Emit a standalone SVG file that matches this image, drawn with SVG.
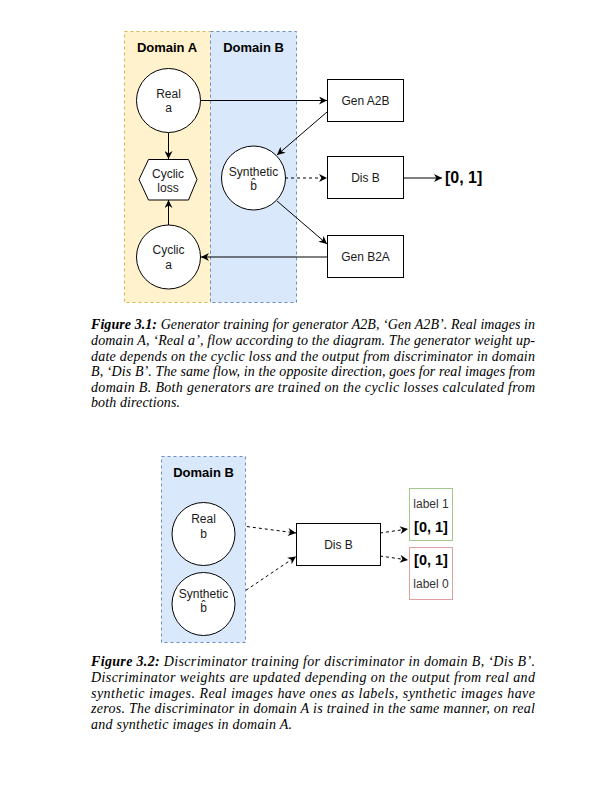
<svg xmlns="http://www.w3.org/2000/svg" width="601" height="785" viewBox="0 0 601 785">
<defs>
<style>
.lbl{font-family:"Liberation Sans",Arial,sans-serif;font-size:12px;fill:#1a1a1a;text-anchor:middle}
.hdr{font-family:"Liberation Sans",Arial,sans-serif;font-size:13px;font-weight:bold;fill:#000;text-anchor:middle}
.out{font-family:"Liberation Sans",Arial,sans-serif;font-weight:bold;fill:#000}
.small{font-family:"Liberation Sans",Arial,sans-serif;font-size:12px;fill:#333;text-anchor:middle}
.node{fill:#fff;stroke:#000;stroke-width:1}
.domA{fill:#fff2cc;stroke:#d6b656;stroke-width:1;stroke-dasharray:3 3}
.domB{fill:#dae8fc;stroke:#6c8ebf;stroke-width:1;stroke-dasharray:3 3}
.edge{fill:none;stroke:#000;stroke-width:1}
.dash{stroke-dasharray:3 3}
.cap{font-family:"Liberation Serif","Times New Roman",serif;font-size:14px;font-style:italic;fill:#000}
.capb{font-weight:bold}
</style>
<marker id="arr" viewBox="0 0 10 10" refX="10" refY="5" markerWidth="9" markerHeight="8" markerUnits="userSpaceOnUse" orient="auto">
<path d="M0,0 L10,5 L0,10 L3,5 z" fill="#000"/>
</marker>
</defs>
<rect width="601" height="785" fill="#fff"/>

<!-- Figure 3.1 -->
<g id="domainA">
<rect class="domA" x="124.5" y="31.5" width="86" height="271"/>
<text class="hdr" x="167" y="51.5">Domain A</text>
</g>
<g id="domainB">
<rect class="domB" x="210.5" y="31.5" width="86" height="271"/>
<text class="hdr" x="253.5" y="51.5">Domain B</text>
</g>

<g id="connectors">
<path class="edge" d="M201 100.5 L327 100.5" marker-end="url(#arr)"/>
<path class="edge" d="M327 112 L277 155" marker-end="url(#arr)"/>
<path class="edge dash" d="M285 178 L327 178" marker-end="url(#arr)"/>
<path class="edge" d="M403 178 L442 178" marker-end="url(#arr)"/>
<path class="edge" d="M277 201 L327 244" marker-end="url(#arr)"/>
<path class="edge" d="M327 257 L201 257" marker-end="url(#arr)"/>
<path class="edge" d="M168.5 133 L168.5 159" marker-end="url(#arr)"/>
<path class="edge" d="M168.5 225 L168.5 200" marker-end="url(#arr)"/>
<path class="edge dash" d="M235 525 L296 533" marker-end="url(#arr)"/>
<path class="edge dash" d="M236 597 L296 556.5" marker-end="url(#arr)"/>
<path class="edge dash" d="M380 533 L408 529" marker-end="url(#arr)"/>
<path class="edge dash" d="M380 556 L408 560" marker-end="url(#arr)"/>
</g>

<g id="realA">
<circle class="node" cx="168.5" cy="100.5" r="32"/>
<text class="lbl" x="168.5" y="97.6">Real</text>
<text class="lbl" x="168.5" y="112">a</text>
</g>
<g id="cyclicLoss">
<polygon class="node" points="139,179.5 148.5,159.5 188.5,159.5 197,179.5 188.5,200 148.5,200"/>
<text class="lbl" x="168" y="177.5">Cyclic</text>
<text class="lbl" x="168" y="191.5">loss</text>
</g>
<g id="cyclicA">
<circle class="node" cx="168.5" cy="257" r="32"/>
<text class="lbl" x="168.5" y="254.3">Cyclic</text>
<text class="lbl" x="168.5" y="268.7">a</text>
</g>
<g id="synthB">
<circle class="node" cx="253.5" cy="178" r="32"/>
<text class="lbl" x="253.5" y="176">Synthetic</text>
<text class="lbl" x="253.5" y="190.4">b̂</text>
</g>
<g id="genA2B">
<rect class="node" x="327.5" y="79.5" width="76" height="42"/>
<text class="lbl" x="365.5" y="105">Gen A2B</text>
</g>
<g id="disB">
<rect class="node" x="327.5" y="156.5" width="76" height="42"/>
<text class="lbl" x="365.5" y="181.5">Dis B</text>
</g>
<g id="genB2A">
<rect class="node" x="327.5" y="235.5" width="76" height="42"/>
<text class="lbl" x="365.5" y="261">Gen B2A</text>
</g>
<g id="out1">
<text class="out" x="445" y="183" font-size="16">[0, 1]</text>
</g>

<!-- Caption 3.1 -->
<g id="caption1">
<text class="cap" x="91" y="329.3" textLength="444" lengthAdjust="spacing"><tspan class="capb">Figure 3.1:</tspan> Generator training for generator A2B, ‘Gen A2B’. Real images in</text>
<text class="cap" x="91" y="344.9" textLength="444" lengthAdjust="spacing">domain A, ‘Real a’, flow according to the diagram. The generator weight up-</text>
<text class="cap" x="91" y="360.5" textLength="444" lengthAdjust="spacing">date depends on the cyclic loss and the output from discriminator in domain</text>
<text class="cap" x="91" y="376.1" textLength="444" lengthAdjust="spacing">B, ‘Dis B’. The same flow, in the opposite direction, goes for real images from</text>
<text class="cap" x="91" y="391.7" textLength="444" lengthAdjust="spacing">domain B. Both generators are trained on the cyclic losses calculated from</text>
<text class="cap" x="91" y="407.3" textLength="89" lengthAdjust="spacing">both directions.</text>
</g>

<!-- Figure 3.2 -->
<g id="domainB2">
<rect class="domB" x="161.5" y="456.5" width="84" height="186"/>
<text class="hdr" x="203.5" y="477.4">Domain B</text>
</g>
<g id="realB">
<circle class="node" cx="203.5" cy="534" r="31.5"/>
<text class="lbl" x="203.5" y="522.6">Real</text>
<text class="lbl" x="203.5" y="537.6">b</text>
</g>
<g id="synthB2">
<circle class="node" cx="203.5" cy="604" r="31.5"/>
<text class="lbl" x="203.5" y="597.6">Synthetic</text>
<text class="lbl" x="203.5" y="612">b̂</text>
</g>
<g id="disB2">
<rect class="node" x="296.5" y="523.5" width="84" height="42"/>
<text class="lbl" x="338.5" y="549">Dis B</text>
</g>
<g id="label1">
<rect x="409.5" y="488.5" width="43" height="52" fill="#fff" stroke="#a3c78c"/>
<text class="small" x="431" y="507.6">label 1</text>
<text class="out" x="431" y="531.5" font-size="14.5" text-anchor="middle">[0, 1]</text>
</g>
<g id="label0">
<rect x="409.5" y="547.5" width="43" height="52" fill="#fff" stroke="#e0a0a0"/>
<text class="out" x="431" y="565" font-size="14.5" text-anchor="middle">[0, 1]</text>
<text class="small" x="431" y="587.6">label 0</text>
</g>

<!-- Caption 3.2 -->
<g id="caption2">
<text class="cap" x="91" y="666" textLength="444" lengthAdjust="spacing"><tspan class="capb">Figure 3.2:</tspan> Discriminator training for discriminator in domain B, ‘Dis B’.</text>
<text class="cap" x="91" y="681.8" textLength="444" lengthAdjust="spacing">Discriminator weights are updated depending on the output from real and</text>
<text class="cap" x="91" y="697.6" textLength="444" lengthAdjust="spacing">synthetic images. Real images have ones as labels, synthetic images have</text>
<text class="cap" x="91" y="713.4" textLength="444" lengthAdjust="spacing">zeros. The discriminator in domain A is trained in the same manner, on real</text>
<text class="cap" x="91" y="729.2" textLength="201" lengthAdjust="spacing">and synthetic images in domain A.</text>
</g>
</svg>
